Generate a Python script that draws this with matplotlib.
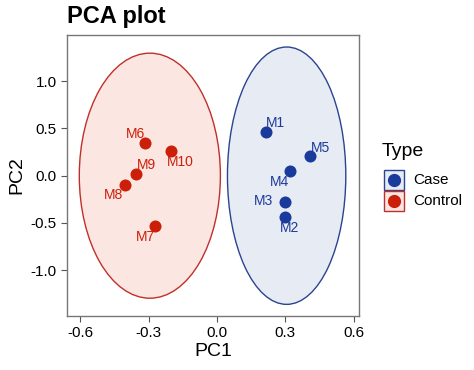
import matplotlib.pyplot as plt
from matplotlib.patches import Ellipse, Rectangle
from matplotlib.lines import Line2D

plt.rcParams['font.family'] = ['Liberation Sans', 'DejaVu Sans']

names = ['M1', 'M2', 'M3', 'M4', 'M5', 'M6', 'M7', 'M8', 'M9', 'M10']
pc1 = [0.215, 0.299, 0.299, 0.32, 0.41, -0.316, -0.271, -0.405, -0.355, -0.202]
pc2 = [0.462, -0.437, -0.275, 0.05, 0.205, 0.345, -0.532, -0.098, 0.018, 0.258]
types = ['Case'] * 5 + ['Control'] * 5
# label offsets in points (repel-like placement)
lab_dx = [7.2, 3.6, -15.8, -7.2, 7, -7.2, -7.2, -7.9, 7.2, 7]
lab_dy = [6.5, -7.9, 0.5, -7.9, 6, 6.5, -7.9, -7.2, 6.5, -7.5]

colors = {'Case': '#1a3a9c', 'Control': '#cc1f0a'}
edge = {'Case': '#2a4590', 'Control': '#c0302a'}
fill = {'Case': '#e7ebf4', 'Control': '#fce6e2'}
ell_center = {'Case': (0.306, 0.0), 'Control': (-0.295, 0.0)}
ell_size = {'Case': (0.52, 2.72), 'Control': (0.62, 2.59)}

fig = plt.figure(figsize=(4.74, 3.70), dpi=100)
ax = fig.add_axes([67 / 474, 1 - 316 / 370, 292 / 474, 281 / 370])

for t in ['Control', 'Case']:
    ax.add_patch(Ellipse(ell_center[t], *ell_size[t], facecolor=fill[t],
                         edgecolor=edge[t], lw=1.0, zorder=1))

for n, x, y, t, dx, dy in zip(names, pc1, pc2, types, lab_dx, lab_dy):
    ax.scatter(x, y, s=75, color=colors[t], zorder=3, linewidths=0)
    ax.annotate(n, (x, y), xytext=(dx, dy), textcoords='offset points',
                ha='center', va='center', fontsize=10, color=colors[t], zorder=4)

ax.set_xlim(-0.659, 0.624)
ax.set_ylim(-1.483, 1.487)
ax.set_xticks([-0.6, -0.3, 0.0, 0.3, 0.6])
ax.set_xticklabels(['-0.6', '-0.3', '0.0', '0.3', '0.6'])
ax.set_yticks([-1.0, -0.5, 0.0, 0.5, 1.0])
ax.set_yticklabels(['-1.0', '-0.5', '0.0', '0.5', '1.0'])
ax.tick_params(labelsize=11, length=4, color='#555555', labelcolor='black')
for sp in ax.spines.values():
    sp.set_color('#777777')
    sp.set_linewidth(1.0)
ax.set_xlabel('PC1', fontsize=14, labelpad=2)
ax.set_ylabel('PC2', fontsize=14, labelpad=4)
fig.text(67 / 474, 1 - 16 / 370, 'PCA plot', fontsize=17, fontweight='bold', va='center')

# legend
fig.text(382 / 474, 1 - 151 / 370, 'Type', fontsize=14, va='center')
for i, t in enumerate(['Case', 'Control']):
    yc = 1 - (180 + 21 * i) / 370
    fig.patches.append(Rectangle((384 / 474, yc - 10 / 370), 20 / 474, 20 / 370,
                                 transform=fig.transFigure, facecolor=fill[t],
                                 edgecolor=edge[t], lw=1.0))
    fig.lines.append(Line2D([394 / 474], [yc], transform=fig.transFigure,
                            marker='o', markersize=8.5, color=colors[t], lw=0))
    fig.text(413 / 474, yc, t, fontsize=11, va='center')

fig.savefig('out.png', dpi=100)
